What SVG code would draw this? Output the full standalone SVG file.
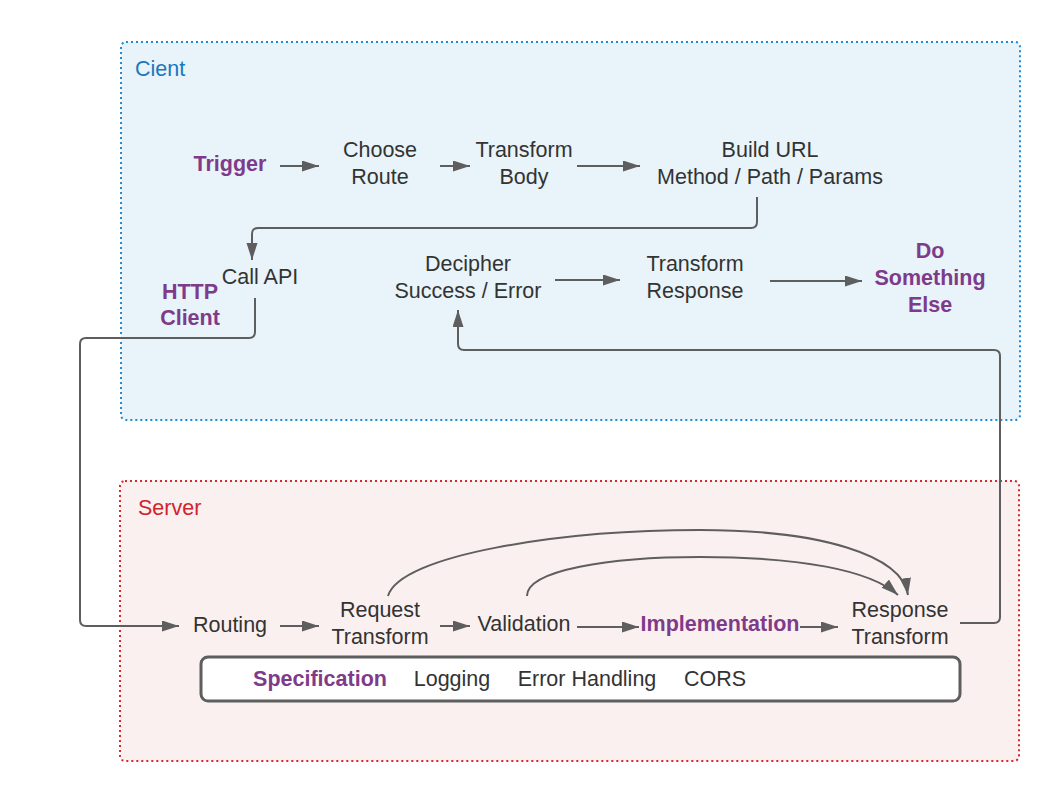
<svg xmlns="http://www.w3.org/2000/svg" width="1062" height="803" viewBox="0 0 1062 803">
<style>
text{font-family:"Liberation Sans",Arial,sans-serif;font-size:21.5px;fill:#333333;text-anchor:middle}
.b{font-weight:bold;fill:#7e3b8a}
.lbl{text-anchor:start}
.c{fill:none;stroke:#5e5e5e;stroke-width:2}
</style>
<defs>
<marker id="ah" markerUnits="userSpaceOnUse" markerWidth="18" markerHeight="12" refX="17" refY="5.5" orient="auto" viewBox="0 0 18 12">
<path d="M0,0 L17,5.5 L0,11 z" fill="#5e5e5e"/>
</marker>
</defs>
<rect width="1062" height="803" fill="#ffffff"/>
<g id="client">
<rect x="121" y="42" width="899" height="378" rx="5" fill="#e8f3fa" stroke="#1f8ad6" stroke-width="2" stroke-dasharray="2 3"/>
<text class="lbl" x="135" y="76" style="fill:#1a78bd">Cient</text>
</g>
<g id="server">
<rect x="120" y="481" width="899" height="280" rx="5" fill="#fbf0f0" stroke="#d9262f" stroke-width="2" stroke-dasharray="2 3"/>
<text class="lbl" x="138" y="515" style="fill:#d0242d">Server</text>
</g>
<g id="connectors">
<line class="c" x1="280" y1="166" x2="319" y2="166" marker-end="url(#ah)"/>
<line class="c" x1="440" y1="166" x2="470" y2="166" marker-end="url(#ah)"/>
<line class="c" x1="577" y1="166" x2="640" y2="166" marker-end="url(#ah)"/>
<path class="c" d="M757,197 V222 Q757,228 751,228 H258 Q252,228 252,234 V260" marker-end="url(#ah)"/>
<path class="c" d="M255,298 V332 Q255,338 249,338 H86 Q80,338 80,344 V620 Q80,626 86,626 H179" marker-end="url(#ah)"/>
<line class="c" x1="280" y1="626" x2="319" y2="626" marker-end="url(#ah)"/>
<line class="c" x1="440" y1="626" x2="470" y2="626" marker-end="url(#ah)"/>
<line class="c" x1="577" y1="627" x2="639" y2="627" marker-end="url(#ah)"/>
<line class="c" x1="800" y1="627" x2="838" y2="627" marker-end="url(#ah)"/>
<path class="c" d="M960,623 H994 Q1000,623 1000,617 V356 Q1000,350 994,350 H464 Q458,350 458,344 V310" marker-end="url(#ah)"/>
<line class="c" x1="555" y1="280" x2="620" y2="280" marker-end="url(#ah)"/>
<line class="c" x1="770" y1="281" x2="862" y2="281" marker-end="url(#ah)"/>
<path class="c" d="M388,596 C400,555 560,530 700,530 C820,530 902,555 908,595" marker-end="url(#ah)"/>
<path class="c" d="M527,596 C527,570 610,557 700,557 C800,557 870,570 898,595" marker-end="url(#ah)"/>
</g>
<g id="trigger"><text class="b" x="230" y="171">Trigger</text></g>
<g id="choose-route"><text x="380" y="157">Choose</text><text x="380" y="184">Route</text></g>
<g id="transform-body"><text x="524" y="157">Transform</text><text x="524" y="184">Body</text></g>
<g id="build-url"><text x="770" y="157">Build URL</text><text x="770" y="184">Method / Path / Params</text></g>
<g id="call-api"><text x="260" y="284">Call API</text></g>
<g id="http-client"><text class="b" x="190" y="299">HTTP</text><text class="b" x="190" y="325">Client</text></g>
<g id="decipher"><text x="468" y="271">Decipher</text><text x="468" y="298">Success / Error</text></g>
<g id="transform-response"><text x="695" y="271">Transform</text><text x="695" y="298">Response</text></g>
<g id="do-something"><text class="b" x="930" y="258">Do</text><text class="b" x="930" y="285">Something</text><text class="b" x="930" y="312">Else</text></g>
<g id="routing"><text x="230" y="632">Routing</text></g>
<g id="request-transform"><text x="380" y="617">Request</text><text x="380" y="644">Transform</text></g>
<g id="validation"><text x="524" y="631">Validation</text></g>
<g id="implementation"><text class="b" x="720" y="631">Implementation</text></g>
<g id="response-transform"><text x="900" y="617">Response</text><text x="900" y="644">Transform</text></g>
<g id="middleware">
<rect x="201" y="657" width="759" height="44" rx="7" fill="#ffffff" stroke="#5e5e5e" stroke-width="3"/>
<text class="b" x="320" y="686">Specification</text>
<text x="452" y="686">Logging</text>
<text x="587" y="686">Error Handling</text>
<text x="715" y="686">CORS</text>
</g>
</svg>
